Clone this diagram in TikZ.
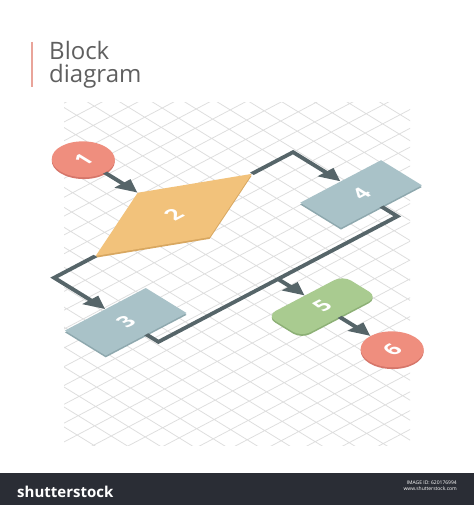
\documentclass[tikz,border=0pt]{standalone}
\usepackage{fontspec}
\setmainfont{Open Sans}
\usetikzlibrary{positioning}
\usetikzlibrary{shapes.geometric}
\usetikzlibrary{arrows.meta}

\definecolor{salmon}{HTML}{EF8E7E}
\definecolor{salmonrim}{HTML}{D6766A}
\definecolor{sand}{HTML}{F2C27B}
\definecolor{sandrim}{HTML}{D8A760}
\definecolor{slate}{HTML}{A9C2C8}
\definecolor{slaterim}{HTML}{8EA8AE}
\definecolor{sage}{HTML}{A9CB90}
\definecolor{sagerim}{HTML}{8DB076}
\definecolor{wire}{HTML}{566569}
\definecolor{gridgray}{HTML}{DEDEDE}
\definecolor{titlegray}{HTML}{5F5F5F}
\definecolor{barpink}{HTML}{E9A49A}
\definecolor{footer}{HTML}{2A2D35}

\begin{document}
\begin{tikzpicture}[internal/.style={draw=none, inner sep=0pt, text=white, font=\fontsize{31}{31}\selectfont\bfseries},
			rim/.style={preaction={fill=#1, transform canvas={shift={(-2.6pt,-2.7pt)}}}},
			terminal/.style={internal, circle, fill=salmon, rim=salmonrim, minimum size=2.62cm},
			decision/.style={internal, diamond, fill=sand, rim=sandrim, minimum width=8.92cm, minimum height=4.37cm},
			process/.style={internal, rectangle, fill=slate, rim=slaterim, minimum width=4.62cm, minimum height=2.47cm},
			heading/.style={anchor=base west, inner sep=0pt, text=titlegray, font=\fontsize{24}{24}\selectfont},
			flow/.style={draw=wire, line width=6.5pt},
			arrow/.style={flow, -{Triangle[length=26pt, width=24pt]}}]
			\useasboundingbox (0,0) rectangle (474pt,-505pt);
			\fill[white] (0,0) rectangle (474pt,-505pt);
			
			\draw[barpink, line width=2pt] (31.5pt,-42pt) -- (31.5pt,-87pt);
			\node[heading](title1) at (49pt,-60pt) {Block};
			\node[heading](title2) at (49pt,-82.5pt) {diagram};
			
			% floor grid
			\begin{scope}
				\clip (64pt,-103pt) rectangle (410pt,-445pt);
				\begin{scope}[transform canvas={cm={0.6151,0.3233,-0.5799,0.3567,(173.7pt,-214.9pt)}}]
					\draw[gridgray, line width=1.3pt] (-17,-21) grid (15,11);
				\end{scope}
			\end{scope}
			
			% flow chart on the floor
			\begin{scope}[transform canvas={cm={0.6151,0.3233,-0.5799,0.3567,(173.7pt,-214.9pt)}}]
				\node[decision](node2) at (0, 0) {2};
				\node[terminal, above=1.97cm of node2](node1) {1};
				\node[process](node3) at (-6.83, -4.34) {3};
				\node[process](node4) at (6.82, -4.12) {4};
				\node[internal, rectangle, rounded corners=0.5cm, fill=sage, rim=sagerim, minimum width=4.35cm, minimum height=2.1cm, below=5.75cm of node2](node5) {5};
				\node[terminal, below=1.87cm of node5](node6) {6};
				\coordinate (join) at (0, -6.32);
				
				\draw[arrow] (node1) -- (node2);
				\draw[arrow] (node2.east) -| (node4);
				\draw[arrow] (node2.west) -| (node3);
				\draw[flow] (node3) |- (join) -| (node4);
				\draw[arrow] (join) -- (node5);
				\draw[arrow] (node5) -- (node6);
			\end{scope}
			
			\fill[footer] (0,-473pt) rectangle (474pt,-505pt);
			\node[anchor=base west, inner sep=0pt, text=white, font=\fontsize{15}{15}\selectfont\bfseries](logo) at (17pt,-497pt) {shutterstock};
			\node[anchor=north east, inner sep=0pt, align=right, text=white, font=\fontsize{5}{6}\selectfont](imageid) at (457pt,-481pt) {IMAGE ID: 620176994\\www.shutterstock.com};
			
		\end{tikzpicture}
\end{document}
